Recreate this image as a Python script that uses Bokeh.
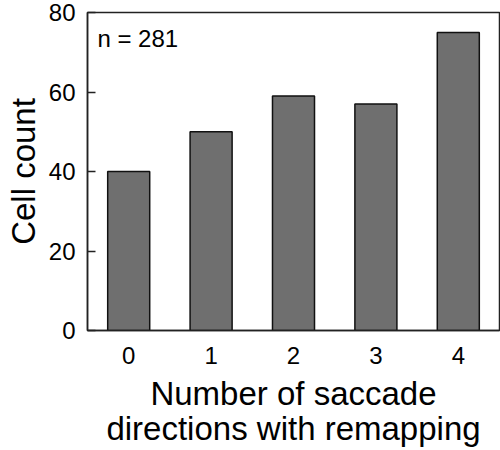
from bokeh.plotting import figure
from bokeh.models import ColumnDataSource, Label, FixedTicker, Range1d
from bokeh.embed import file_html
from bokeh.resources import INLINE

categories = [0, 1, 2, 3, 4]
cell_counts = [40, 50, 59, 57, 75]
y_ticks = [0, 20, 40, 60, 80]
n_label = "n = 281"
x_title = "Number of saccade\ndirections with remapping"
y_title = "Cell count"

FONT = "Liberation Sans"
TICK_SIZE = "24px"
TITLE_SIZE = "33px"

src = ColumnDataSource(data=dict(x=categories, top=cell_counts))

p = figure(width=500, height=450, output_backend="svg", toolbar_location=None,
           x_range=Range1d(-0.5, 4.5), y_range=Range1d(0, 80),
           min_border_left=87, min_border_right=1, min_border_top=12, min_border_bottom=120)

p.vbar(x="x", top="top", width=0.51, bottom=0, source=src,
       fill_color="#6f6f6f", line_color="#111111", line_width=1.5)

p.grid.visible = False
p.outline_line_color = "#222222"
p.outline_line_width = 1.5

p.xaxis.ticker = FixedTicker(ticks=categories)
p.yaxis.ticker = FixedTicker(ticks=y_ticks)

for ax in (p.xaxis[0], p.yaxis[0]):
    ax.axis_line_color = "#222222"
    ax.axis_line_width = 1.5
    ax.major_label_text_font = FONT
    ax.major_label_text_font_size = TICK_SIZE
    ax.major_label_text_color = "black"
    ax.axis_label_text_font = FONT
    ax.axis_label_text_font_size = TITLE_SIZE
    ax.axis_label_text_font_style = "normal"
    ax.axis_label_text_color = "black"
    ax.minor_tick_line_color = None

p.xaxis.major_tick_line_color = None
p.xaxis.major_label_standoff = 10
p.xaxis.axis_label = x_title
p.xaxis.axis_label_text_line_height = 0.95
p.xaxis.axis_label_standoff = 8

p.yaxis.major_tick_in = 8
p.yaxis.major_tick_out = 0
p.yaxis.major_tick_line_color = "#222222"
p.yaxis.major_tick_line_width = 1.5
p.yaxis.major_label_standoff = 12
p.yaxis.axis_label = y_title
p.yaxis.axis_label_standoff = 4

p.add_layout(Label(x=-0.38, y=73.5, text=n_label, text_font=FONT,
                   text_font_size="24px", text_color="black",
                   text_baseline="alphabetic", text_align="left"))

open("out.html", "w").write(file_html(p, INLINE))
